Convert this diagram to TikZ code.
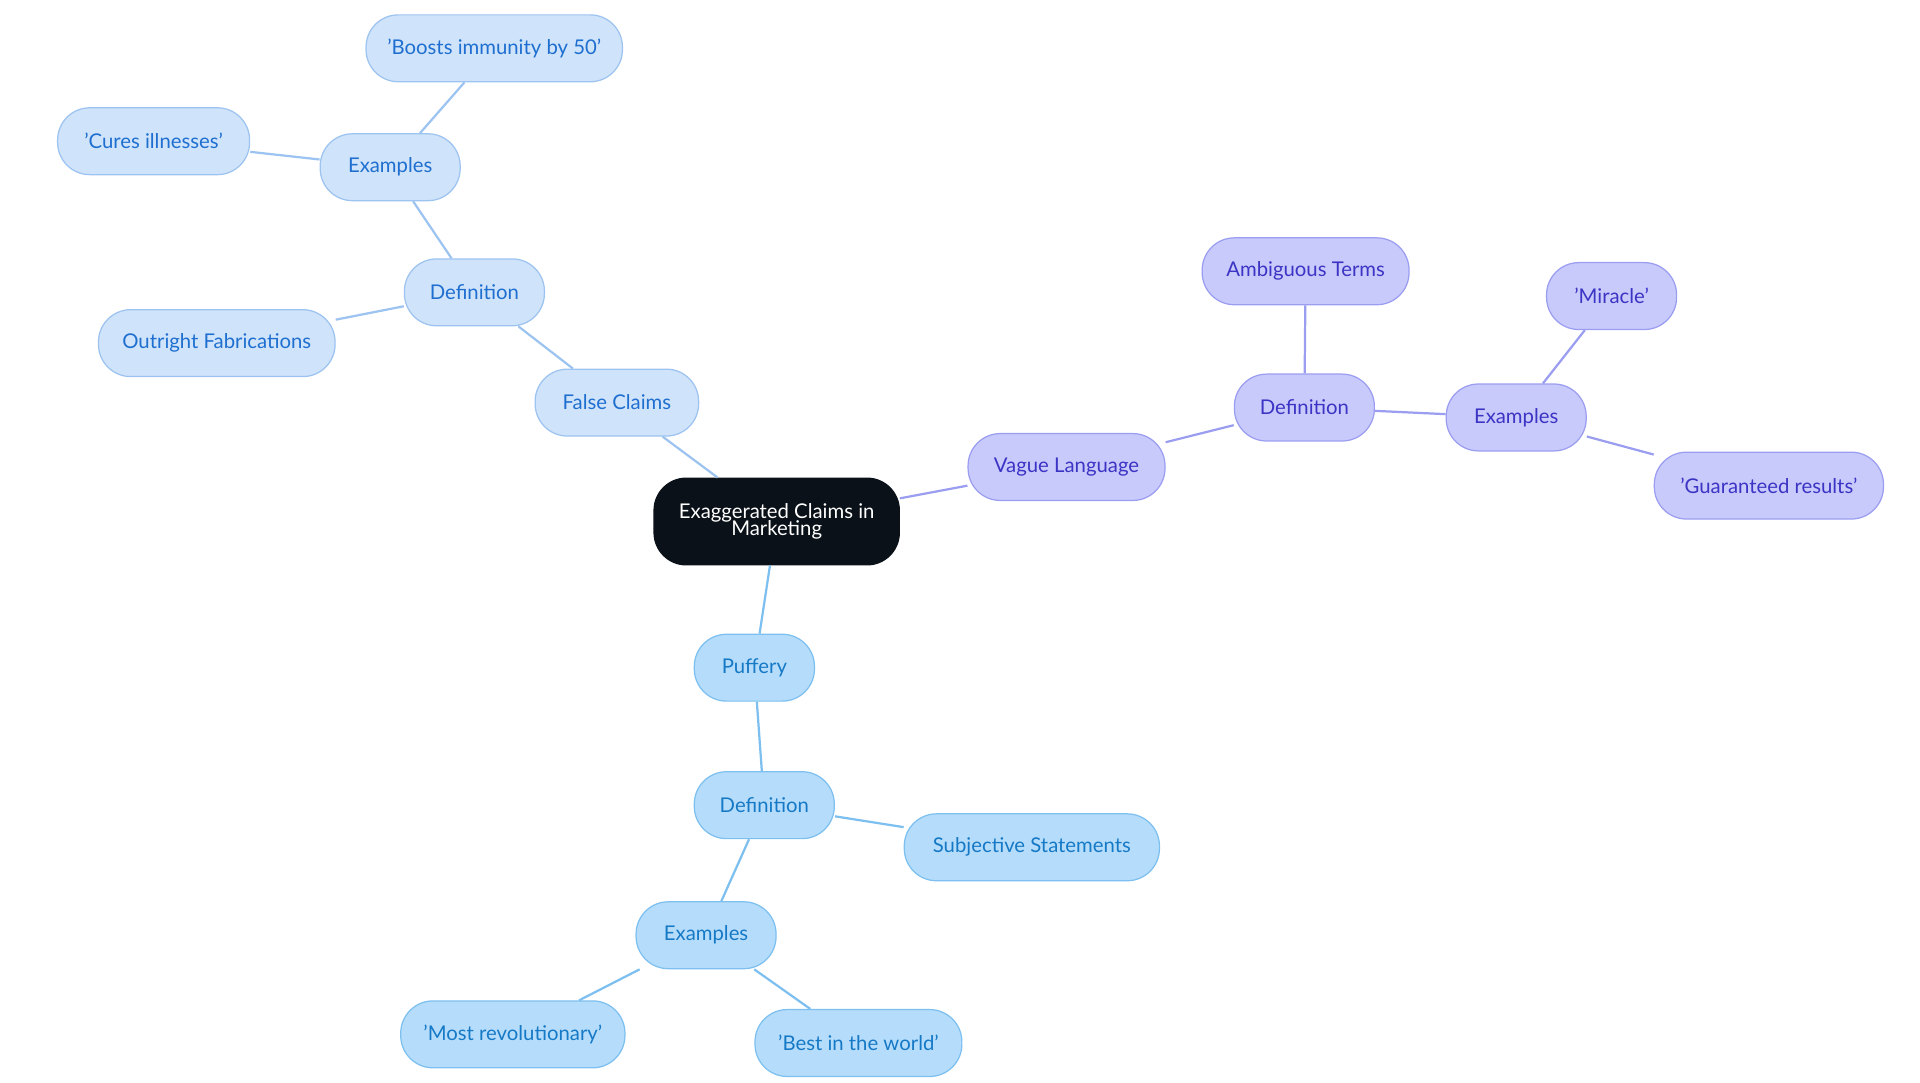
\documentclass[tikz,border=0pt]{standalone}
\usepackage{fontspec}
\setmainfont{Lato}
\usetikzlibrary{positioning}
\definecolor{rootfill}{HTML}{0B1118}
\definecolor{fcfill}{HTML}{CFE3FA}
\definecolor{fcline}{HTML}{9DC3F0}
\definecolor{fctext}{HTML}{1E6FD0}
\definecolor{vlfill}{HTML}{C8CAFB}
\definecolor{vlline}{HTML}{9B9EF0}
\definecolor{vltext}{HTML}{3B34C4}
\definecolor{pffill}{HTML}{B5DDFB}
\definecolor{pfline}{HTML}{7DC0F0}
\definecolor{pftext}{HTML}{1679C6}

\tikzset{
  topic/.style={rounded corners=13pt, minimum height=27pt, inner sep=0pt, font=\fontsize{8.2}{9}\selectfont, line width=0.5pt},
  fcbox/.style={topic, fill=fcfill, draw=fcline, text=fctext},
  vlbox/.style={topic, fill=vlfill, draw=vlline, text=vltext},
  pfbox/.style={topic, fill=pffill, draw=pfline, text=pftext},
  fcedge/.style={draw=fcline, line width=0.9pt},
  vledge/.style={draw=vlline, line width=0.9pt},
  pfedge/.style={draw=pfline, line width=0.9pt}
}

\begin{document}
\begin{tikzpicture}[x=0.5pt, y=-0.5pt]
\useasboundingbox (0,0) rectangle (1550,874);

\node[topic, fill=rootfill, draw=rootfill, text=white, minimum width=99pt, minimum height=35pt, align=center] (root) at (627,421) {Exaggerated Claims in\\[-2pt]Marketing};

% false claims
\node[fcbox, minimum width=66pt] (fc) at (498,325) {False Claims};
\node[fcbox, minimum width=56.5pt] (fcdef) at (383,236) {Definition};
\node[fcbox, minimum width=56.5pt] (fcex) at (315,135) {Examples};
\node[fcbox, minimum width=103.5pt] (fcboost) at (399,39) {'Boosts immunity by 50'};
\node[fcbox, minimum width=77.5pt] (fccure) at (124,114) {'Cures illnesses'};
\node[fcbox, minimum width=95.5pt] (fcfab) at (175,277) {Outright Fabrications};

% vague language
\node[vlbox, minimum width=79.5pt] (vl) at (861,377) {Vague Language};
\node[vlbox, minimum width=56.5pt] (vldef) at (1053,329) {Definition};
\node[vlbox, minimum width=83.5pt] (vlamb) at (1054,219) {Ambiguous Terms};
\node[vlbox, minimum width=56.5pt] (vlex) at (1224,337) {Examples};
\node[vlbox, minimum width=52.5pt] (vlmir) at (1301,239) {'Miracle'};
\node[vlbox, minimum width=92.5pt] (vlgua) at (1428,392) {'Guaranteed results'};

% puffery
\node[pfbox, minimum width=48.5pt] (pf) at (609,539) {Puffery};
\node[pfbox, minimum width=56.5pt] (pfdef) at (617,650) {Definition};
\node[pfbox, minimum width=103pt] (pfsub) at (833,684) {Subjective Statements};
\node[pfbox, minimum width=56.5pt] (pfex) at (570,755) {Examples};
\node[pfbox, minimum width=90.5pt] (pfmost) at (414,835) {'Most revolutionary'};
\node[pfbox, minimum width=83.5pt] (pfbest) at (693,842) {'Best in the world'};

\path[fcedge] (root) -- (fc) (fc) -- (fcdef) (fcdef) -- (fcex) (fcex) -- (fcboost) (fcex) -- (fccure) (fcdef) -- (fcfab);
\path[vledge] (root) -- (vl) (vl) -- (vldef) (vldef) -- (vlamb) (vldef) -- (vlex) (vlex) -- (vlmir) (vlex) -- (vlgua);
\path[pfedge] (root) -- (pf) (pf) -- (pfdef) (pfdef) -- (pfsub) (pfdef) -- (pfex) (pfex) -- (pfmost) (pfex) -- (pfbest);
\end{tikzpicture}
\end{document}
